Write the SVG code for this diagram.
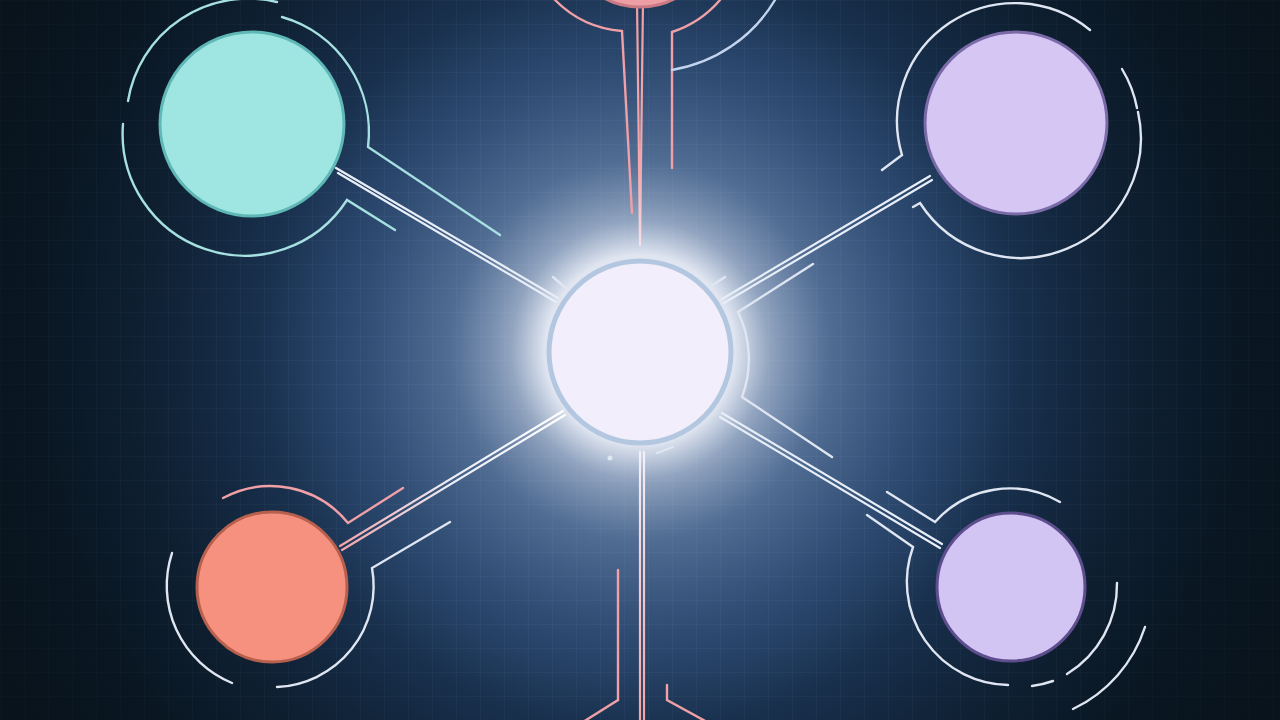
<svg xmlns="http://www.w3.org/2000/svg" width="1280" height="720" viewBox="0 0 1280 720">
<defs>
<radialGradient id="bg" cx="640" cy="350" r="720" gradientUnits="userSpaceOnUse">
<stop offset="0" stop-color="#4a6a95"/>
<stop offset="0.2" stop-color="#34527d"/>
<stop offset="0.45" stop-color="#213d62"/>
<stop offset="0.65" stop-color="#142a44"/>
<stop offset="0.88" stop-color="#0a1824"/>
<stop offset="1" stop-color="#08131c"/>
</radialGradient>
<radialGradient id="glow" cx="640" cy="350" r="380" gradientUnits="userSpaceOnUse">
<stop offset="0" stop-color="#ffffff" stop-opacity="1"/>
<stop offset="0.25" stop-color="#f6f8ff" stop-opacity="0.88"/>
<stop offset="0.34" stop-color="#dde6f4" stop-opacity="0.55"/>
<stop offset="0.5" stop-color="#a9bfdc" stop-opacity="0.28"/>
<stop offset="0.75" stop-color="#7f9cc4" stop-opacity="0.1"/>
<stop offset="1" stop-color="#7f9cc4" stop-opacity="0"/>
</radialGradient>
<radialGradient id="vig" cx="640" cy="350" r="720" gradientUnits="userSpaceOnUse">
<stop offset="0.4" stop-color="#08131c" stop-opacity="0"/>
<stop offset="1" stop-color="#08131c" stop-opacity="0.7"/>
</radialGradient>
<pattern id="grid" width="24" height="24" patternUnits="userSpaceOnUse">
<path d="M24 0H0V24" fill="none" stroke="#7fa3d4" stroke-opacity="0.13" stroke-width="1"/>
</pattern>
<linearGradient id="gBL" x1="340" y1="548" x2="563" y2="412" gradientUnits="userSpaceOnUse">
<stop offset="0" stop-color="#f2a4a8"/>
<stop offset="0.5" stop-color="#eceff8"/>
<stop offset="1" stop-color="#ffffff"/>
</linearGradient>
<linearGradient id="gTop" x1="640" y1="0" x2="640" y2="245" gradientUnits="userSpaceOnUse">
<stop offset="0" stop-color="#f0a0a4"/>
<stop offset="0.7" stop-color="#f2a8ac"/>
<stop offset="1" stop-color="#f6e0ea"/>
</linearGradient>
<linearGradient id="gBot" x1="640" y1="450" x2="640" y2="720" gradientUnits="userSpaceOnUse">
<stop offset="0" stop-color="#f2f2fa"/>
<stop offset="1" stop-color="#f0a4a4"/>
</linearGradient>
</defs>
<style>
.ring{fill:none;stroke-width:2.4;stroke-linecap:round;stroke-linejoin:miter}
.w{stroke:#dfe6f2}
.t{stroke:#a6e0e0}
.p{stroke:#f0a0a6}
.con{fill:none;stroke:#e8eef8;stroke-width:2.2;stroke-linecap:round}
.node{stroke-width:3}
</style>
<rect width="1280" height="720" fill="url(#bg)"/>
<rect width="1280" height="720" fill="url(#grid)"/>
<rect width="1280" height="720" fill="url(#vig)"/>
<circle cx="640" cy="350" r="380" fill="url(#glow)"/>

<g id="connectors">
<path class="con" d="M336,168 L558,298 M338,173 L556,302"/>
<path class="con" d="M930,176 L722,299 M932,180 L724,303"/>
<path class="con" style="stroke:url(#gBL)" d="M340,546 L563,411 M342,550 L565,415"/>
<path class="con" d="M722,413 L942,544 M720,417 L940,548"/>
<path class="con" style="stroke:url(#gTop)" d="M637,0 L640,245 M643,0 L640,245"/>
<path class="con" style="stroke:url(#gBot)" d="M640,452 L640,720 M644,452 L644,720"/>
</g>

<g id="node-top">
<circle cx="640" cy="-68" r="75" fill="#ee9fa6" stroke="#c97a82" stroke-width="3"/>
<path class="ring p" d="M555,0 A105 105 0 0 0 622,31 L632,213"/>
<path class="ring p" d="M720,0 A106 106 0 0 1 672,32 L672,168"/>
<path class="ring w" style="stroke:#c4d4ee" d="M775,0 A148 148 0 0 1 672,70"/>
</g>

<g id="node-tl">
<circle class="node" cx="252" cy="124" r="92" fill="#9fe6e3" stroke="#5fb8b6"/>
<path class="ring t" d="M128,101 A122 122 0 0 1 277,2"/>
<path class="ring t" d="M282,17 A120 120 0 0 1 368,147 L500,235"/>
<path class="ring t" d="M123,124 A122 122 0 0 0 347,200 L395,230"/>
</g>

<g id="node-tr">
<circle class="node" cx="1016" cy="123" r="91" fill="#d6c6f4" stroke="#7a6aa8"/>
<path class="ring w" d="M1090,30 A118 118 0 0 0 902,155 L882,170"/>
<path class="ring w" d="M913,207 L920,203 A120 120 0 0 0 1138,112"/>
<path class="ring w" d="M1122,69 A118 118 0 0 1 1137,108"/>
</g>

<g id="node-bl">
<circle class="node" cx="272" cy="587" r="75" fill="#f6917f" stroke="#b8604e"/>
<path class="ring p" d="M223,498 A100 100 0 0 1 348,523 L403,488"/>
<path class="ring w" d="M450,522 L372,568 A101 101 0 0 1 277,687"/>
<path class="ring w" d="M172,553 A105 105 0 0 0 232,683"/>
</g>

<g id="node-br">
<circle class="node" cx="1011" cy="587" r="74" fill="#d3c5f3" stroke="#5e4e8e"/>
<path class="ring w" d="M887,492 L935,522 A100 100 0 0 1 1060,502"/>
<path class="ring w" d="M867,515 L913,547 A103 103 0 0 0 1008,685"/>
<path class="ring w" d="M1032,686 A103 103 0 0 0 1053,681"/>
<path class="ring w" d="M1117,583 A105 105 0 0 1 1067,674"/>
<path class="ring w" d="M1145,627 A138 138 0 0 1 1073,709"/>
</g>

<g id="node-bottom">
<path class="ring p" d="M618,570 L618,700 L583,722"/>
<path class="ring p" d="M667,685 L667,700 L707,722"/>
</g>

<g id="node-center">
<circle cx="640" cy="352" r="91" fill="#f2eefc" stroke="#b4c7e0" stroke-width="5"/>
<path class="ring w" d="M553,277 L568,290"/>
<path class="ring w" d="M710,287 L725,277"/>
<path class="ring w" d="M813,264 L738,312 A108 108 0 0 1 742,397 L832,457"/>
<circle cx="610" cy="458" r="2.5" fill="#dfe6f2"/>
<path class="ring w" d="M657,453 L673,447"/>
</g>
</svg>
